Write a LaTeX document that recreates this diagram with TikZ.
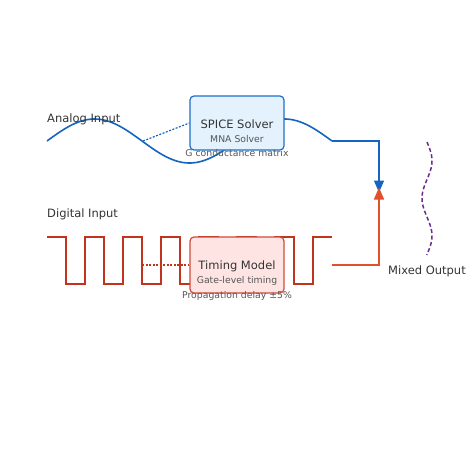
\documentclass[tikz,border=0pt]{standalone}
\usepackage{fontspec}
\setmainfont{DejaVu Sans}
\usepackage{xcolor}
\usepackage{tikz}
\usetikzlibrary{arrows.meta}

\definecolor{analogblue}{HTML}{1565C0}
\definecolor{spicefill}{HTML}{E3F2FD}
\definecolor{spiceline}{HTML}{1E6FC8}
\definecolor{digitalred}{HTML}{C0341D}
\definecolor{timingfill}{HTML}{FFE4E4}
\definecolor{timingline}{HTML}{D04A3A}
\definecolor{outred}{HTML}{E0502A}
\definecolor{mixpurple}{HTML}{6A2C91}
\definecolor{labelgrey}{HTML}{333333}
\definecolor{subgrey}{HTML}{555555}

\tikzset{
  title/.style={font=\fontsize{11.5}{13}\selectfont, text=labelgrey, inner sep=0pt},
  subtitle/.style={font=\fontsize{9.3}{11}\selectfont, text=subgrey, inner sep=0pt},
  solverbox/.style={draw, rounded corners=4pt, line width=1.2pt, minimum width=94pt, inner sep=0pt},
  tapline/.style={line width=1.2pt, dash pattern=on 2pt off 1.5pt}
}

\begin{document}
\begin{tikzpicture}[x=1pt,y=-1pt]
\useasboundingbox (0,0) rectangle (474,474);
% analog side
\draw[analogblue, line width=1.6pt, domain=47:332, samples=120, smooth] plot (\x, {141-22*sin((\x-47)/190*360)});
\coordinate (analogtap) at (143,141);
\coordinate (analogend) at (332,141);
	\node[title, anchor=west] (analoglabel) at (47,119) {Analog Input};
% digital side
\draw[digitalred, line width=1.6pt] (47,237) -- (66,237)
  \foreach \s in {66,104,142,180,218,256} {
    -- (\s,284) -- (\s+19,284) -- (\s+19,237) -- (\s+38,237)
  }
  -- (294,237) -- (294,284) -- (313,284) -- (313,237) -- (332,237);
\coordinate (digitaltap) at (142,265);
\coordinate (digitalend) at (332,265);
	\node[title, anchor=west] (digitallabel) at (47,214) {Digital Input};
% solver boxes
\node[solverbox, spiceline, fill=spicefill, minimum height=54pt] (spice) at (237,123) {};
	\node[title] (spicetitle) at (237,124) {SPICE Solver};
	\node[subtitle] (spicesub) at (237,139) {MNA Solver};
	\node[subtitle] (spicenote) at (237,153) {G conductance matrix};
\node[solverbox, timingline, fill=timingfill, minimum height=56pt] (timing) at (237,265) {};
	\node[title] (timingtitle) at (237,266) {Timing Model};
	\node[subtitle] (timingsub) at (237,281) {Gate-level timing};
	\node[subtitle] (timingnote) at (237,296) {Propagation delay ±5\%};
\draw[analogblue, tapline] (analogtap) -- (spice.west);
\draw[digitalred, tapline] (digitaltap) -- (timing.west);
% mixing
\coordinate (mixtop) at (379,192.5);
\coordinate (mixbottom) at (379,187.5);
\draw[analogblue, line width=1.5pt, -{Triangle[length=12pt,width=10pt]}] (analogend) -- (379,141) -- (mixtop);
\draw[outred, line width=1.5pt, -{Triangle[length=12pt,width=10pt]}] (digitalend) -- (379,265) -- (mixbottom);
\draw[mixpurple, line width=1.5pt, dash pattern=on 4pt off 2.5pt, variable=\y, domain=142:255, samples=60, smooth] plot ({427+5*sin((\y-142)/75*360)}, \y);
	\node[title, anchor=west] (mixlabel) at (388,271) {Mixed Output};
\end{tikzpicture}
\end{document}
